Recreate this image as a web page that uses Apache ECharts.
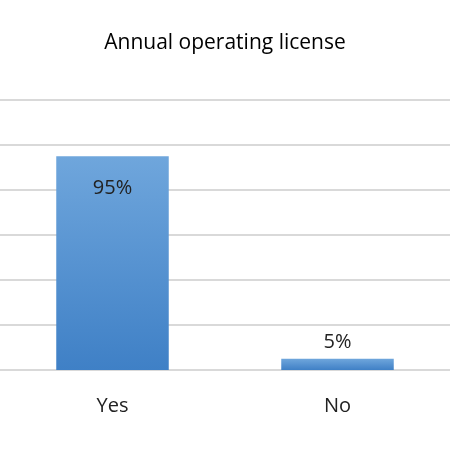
<!DOCTYPE html>
<html><head><meta charset="utf-8">
<script src="https://cdn.jsdelivr.net/npm/echarts@6/dist/echarts.min.js"></script>
<style>html,body{margin:0;padding:0;background:#fff}#c{width:450px;height:450px}</style>
</head><body><div id="c"></div>
<script>
const categories = ["Yes", "No"];
const values = [95, 5];
const labelPositions = ["insideTop", "top"];
const labelDistances = [22, 6];
const chart = echarts.init(document.getElementById('c'));
chart.setOption({
  animation: false,
  title: { text: "Annual operating license", left: 'center', top: 28,
    textStyle: { fontFamily: 'Open Sans', fontWeight: 'normal', fontSize: 21, color: '#000' } },
  grid: { left: -10, width: 554, top: 100, bottom: 80, containLabel: false },
  xAxis: { type: 'category', data: categories,
    axisLine: { lineStyle: { color: '#d9d9d9', width: 2 } }, axisTick: { show: false },
    axisLabel: { fontFamily: 'Open Sans', fontSize: 20, color: '#222', margin: 26 } },
  yAxis: { type: 'value', min: 0, max: 120, interval: 20, axisLabel: { show: false },
    splitLine: { lineStyle: { color: '#d9d9d9', width: 2 } } },
  series: [{ type: 'bar', barWidth: '50%',
    data: values.map((v, i) => ({ value: v, label: { position: labelPositions[i], distance: labelDistances[i] } })),
    itemStyle: { color: new echarts.graphic.LinearGradient(0, 0, 0, 1,
      [{ offset: 0, color: '#6fa6dc' }, { offset: 1, color: '#3f80c6' }]) },
    label: { show: true, formatter: '{c}%', fontFamily: 'Open Sans', fontSize: 20, color: '#222' } }]
});
</script></body></html>
